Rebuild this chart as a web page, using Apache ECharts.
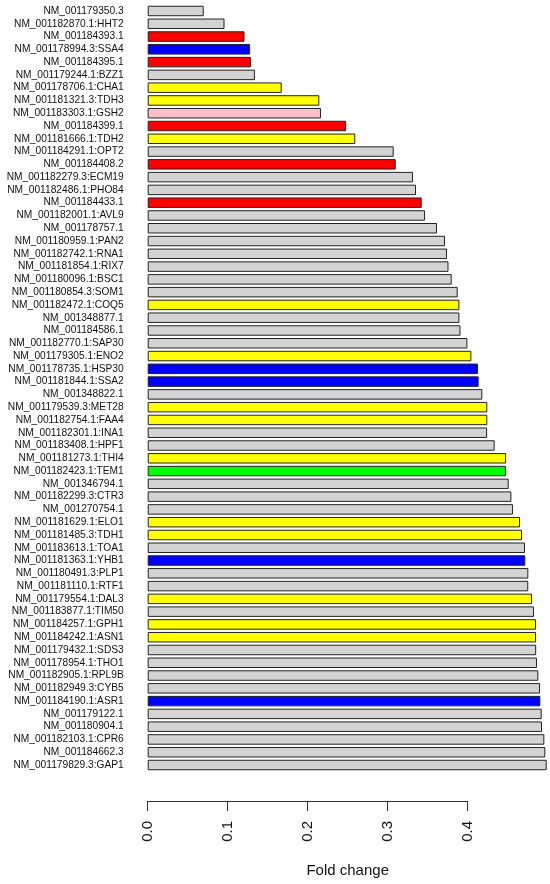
<!DOCTYPE html>
<html>
<head>
<meta charset="utf-8">
<script src="https://cdn.jsdelivr.net/npm/echarts@6/dist/echarts.min.js"></script>
<style>
html,body{margin:0;padding:0;background:#fff;}
#chart{width:550px;height:884px;}
</style>
</head>
<body>
<div id="chart"></div>
<script>
const genes = [
  "NM_001179350.3","NM_001182870.1:HHT2","NM_001184393.1","NM_001178994.3:SSA4","NM_001184395.1",
  "NM_001179244.1:BZZ1","NM_001178706.1:CHA1","NM_001181321.3:TDH3","NM_001183303.1:GSH2","NM_001184399.1",
  "NM_001181666.1:TDH2","NM_001184291.1:OPT2","NM_001184408.2","NM_001182279.3:ECM19","NM_001182486.1:PHO84",
  "NM_001184433.1","NM_001182001.1:AVL9","NM_001178757.1","NM_001180959.1:PAN2","NM_001182742.1:RNA1",
  "NM_001181854.1:RIX7","NM_001180096.1:BSC1","NM_001180854.3:SOM1","NM_001182472.1:COQ5","NM_001348877.1",
  "NM_001184586.1","NM_001182770.1:SAP30","NM_001179305.1:ENO2","NM_001178735.1:HSP30","NM_001181844.1:SSA2",
  "NM_001348822.1","NM_001179539.3:MET28","NM_001182754.1:FAA4","NM_001182301.1:INA1","NM_001183408.1:HPF1",
  "NM_001181273.1:THI4","NM_001182423.1:TEM1","NM_001346794.1","NM_001182299.3:CTR3","NM_001270754.1",
  "NM_001181629.1:ELO1","NM_001181485.3:TDH1","NM_001183613.1:TOA1","NM_001181363.1:YHB1","NM_001180491.3:PLP1",
  "NM_001181110.1:RTF1","NM_001179554.1:DAL3","NM_001183877.1:TIM50","NM_001184257.1:GPH1","NM_001184242.1:ASN1",
  "NM_001179432.1:SDS3","NM_001178954.1:THO1","NM_001182905.1:RPL9B","NM_001182949.3:CYB5","NM_001184190.1:ASR1",
  "NM_001179122.1","NM_001180904.1","NM_001182103.1:CPR6","NM_001184662.3","NM_001179829.3:GAP1"
];
const foldChange = [
  0.070,0.096,0.121,0.128,0.129,
  0.134,0.1675,0.2145,0.2166,0.248,
  0.2595,0.3075,0.310,0.3316,0.3354,
  0.3425,0.3466,0.3616,0.3716,0.3741,
  0.376,0.380,0.3875,0.3896,0.3896,
  0.391,0.3996,0.4046,0.4129,0.4137,
  0.4183,0.4245,0.4245,0.4243,0.4337,
  0.448,0.4478,0.4512,0.4546,0.4566,
  0.4654,0.4679,0.4716,0.472,0.4758,
  0.4757,0.4804,0.4829,0.4854,0.4854,
  0.4856,0.4866,0.4883,0.4904,0.4908,
  0.4925,0.4929,0.4958,0.497,0.4987
];
const groups = [
  "g","g","r","b","r",
  "g","y","y","p","r",
  "y","g","r","g","g",
  "r","g","g","g","g",
  "g","g","g","y","g",
  "g","g","y","b","b",
  "g","y","y","g","g",
  "y","n","g","g","g",
  "y","y","g","b","g",
  "g","y","g","y","y",
  "g","g","g","g","b",
  "g","g","g","g","g"
];
const tickValues = [0.0, 0.1, 0.2, 0.3, 0.4];

const palette = {g:"#D3D3D3", r:"#FF0000", b:"#0000FF", y:"#FFFF00", p:"#FFC0CB", n:"#00FF00"};
const FONT = "'Liberation Sans', Arial, sans-serif";

const chart = echarts.init(document.getElementById('chart'), null, {renderer:'canvas'});
const option = {
  animation: false,
  backgroundColor: '#fff',
  grid: [
    {left: 147.7, right: 2.3, top: 4.6, height: 766.8, containLabel: false},
    {left: 147.7, width: 320, top: 790, height: 11, containLabel: false}
  ],
  xAxis: [
    {
      gridIndex: 0, type: 'value', min: 0, max: 0.5,
      axisLine: {show:false}, axisTick: {show:false}, axisLabel: {show:false}, splitLine: {show:false},
      name: 'Fold change', nameLocation: 'middle', nameGap: 92,
      nameTextStyle: {fontFamily: FONT, fontSize: 15, color: '#111'}
    },
    {
      gridIndex: 1, type: 'value', min: tickValues[0], max: tickValues[tickValues.length-1], interval: 0.1,
      position: 'bottom',
      axisLine: {show:true, lineStyle:{color:'#333', width:1}},
      axisTick: {show:true, length:10, lineStyle:{color:'#333', width:1}},
      axisLabel: {rotate: 90, margin: 20, fontFamily: FONT, fontSize: 15, color:'#111',
                  formatter: v => v.toFixed(1)},
      splitLine: {show:false}
    }
  ],
  yAxis: [
    {
      gridIndex: 0, type: 'category', data: genes, inverse: true,
      axisLine: {show:false}, axisTick: {show:false}, splitLine:{show:false},
      axisLabel: {interval: 0, margin: 24, fontFamily: FONT, fontSize: 10.2, color: '#111'}
    },
    {
      gridIndex: 1, type: 'value', show: false, min: 0, max: 1
    }
  ],
  series: [{
    type: 'bar', xAxisIndex: 0, yAxisIndex: 0,
    barCategoryGap: '18%',
    data: foldChange.map((v, i) => ({
      value: v,
      itemStyle: {color: palette[groups[i]], borderColor: '#222', borderWidth: 1}
    }))
  }]
};
chart.setOption(option);
</script>
</body>
</html>
